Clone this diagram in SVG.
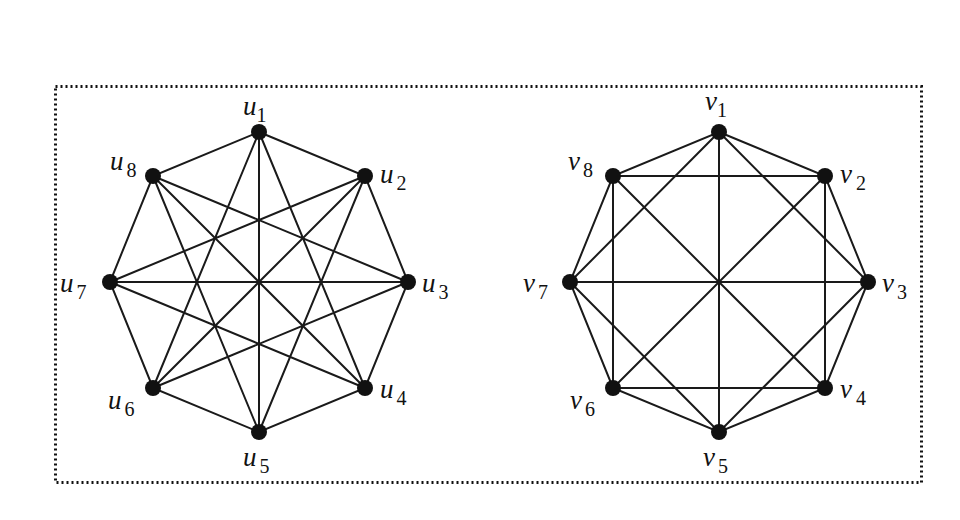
<svg xmlns="http://www.w3.org/2000/svg" width="960" height="520" viewBox="0 0 960 520">
<style>
.e{stroke:#1a1a1a;stroke-width:2;fill:none}
.n{fill:#111}
.l{font-family:"Liberation Serif",serif;font-style:italic;font-size:27px;fill:#111}
.s{font-style:normal;font-size:20px}
</style>
<rect width="960" height="520" fill="#fff"/>
<rect x="55.5" y="86.5" width="866" height="396" fill="none" stroke="#111" stroke-width="3" stroke-dasharray="2,3"/>
<g id="connectors" class="e">
<!-- left: octagon -->
<path d="M259,132L365,176L408,282L365,388L259,432L153,388L110,282L153,176Z"/>
<!-- left: distance 3 -->
<path d="M259,132L365,388M259,132L153,388M365,176L259,432M365,176L110,282M408,282L153,388M408,282L153,176M365,388L110,282M259,432L153,176"/>
<!-- left: distance 4 -->
<path d="M259,132L259,432M365,176L153,388M408,282L110,282M365,388L153,176"/>
<!-- right: octagon -->
<path d="M719,132L825,176L868,282L825,388L719,432L613,388L570,282L613,176Z"/>
<path d="M613,176L825,176L825,388L613,388Z"/>
<path d="M719,132L570,282M719,132L868,282M719,432L570,282M719,432L868,282"/>
<path d="M719,132L719,432M570,282L868,282M613,176L825,388M825,176L613,388"/>
</g>
<g id="u1"><circle class="n" cx="259" cy="132" r="8"/><text class="l" x="243" y="115">u<tspan class="s" dy="7">1</tspan></text></g>
<g id="u2"><circle class="n" cx="365" cy="176" r="8"/><text class="l" x="380" y="183">u<tspan class="s" dx="3" dy="7">2</tspan></text></g>
<g id="u3"><circle class="n" cx="408" cy="282" r="8"/><text class="l" x="422" y="292">u<tspan class="s" dx="3" dy="7">3</tspan></text></g>
<g id="u4"><circle class="n" cx="365" cy="388" r="8"/><text class="l" x="380" y="398">u<tspan class="s" dx="3" dy="7">4</tspan></text></g>
<g id="u5"><circle class="n" cx="259" cy="432" r="8"/><text class="l" x="243" y="466">u<tspan class="s" dx="3" dy="7">5</tspan></text></g>
<g id="u6"><circle class="n" cx="153" cy="388" r="8"/><text class="l" x="108" y="409">u<tspan class="s" dx="3" dy="7">6</tspan></text></g>
<g id="u7"><circle class="n" cx="110" cy="282" r="8"/><text class="l" x="60" y="292">u<tspan class="s" dx="3" dy="7">7</tspan></text></g>
<g id="u8"><circle class="n" cx="153" cy="176" r="8"/><text class="l" x="110" y="170">u<tspan class="s" dx="3" dy="7">8</tspan></text></g>
<g id="v1"><circle class="n" cx="719" cy="132" r="8"/><text class="l" x="705" y="110">v<tspan class="s" dy="7">1</tspan></text></g>
<g id="v2"><circle class="n" cx="825" cy="176" r="8"/><text class="l" x="840" y="183">v<tspan class="s" dx="4" dy="7">2</tspan></text></g>
<g id="v3"><circle class="n" cx="868" cy="282" r="8"/><text class="l" x="882" y="292">v<tspan class="s" dx="3" dy="7">3</tspan></text></g>
<g id="v4"><circle class="n" cx="825" cy="388" r="8"/><text class="l" x="840" y="398">v<tspan class="s" dx="4" dy="7">4</tspan></text></g>
<g id="v5"><circle class="n" cx="719" cy="432" r="8"/><text class="l" x="703" y="466">v<tspan class="s" dx="3" dy="7">5</tspan></text></g>
<g id="v6"><circle class="n" cx="613" cy="388" r="8"/><text class="l" x="570" y="409">v<tspan class="s" dx="3" dy="7">6</tspan></text></g>
<g id="v7"><circle class="n" cx="570" cy="282" r="8"/><text class="l" x="523" y="292">v<tspan class="s" dx="3" dy="7">7</tspan></text></g>
<g id="v8"><circle class="n" cx="613" cy="176" r="8"/><text class="l" x="568" y="170">v<tspan class="s" dx="3" dy="7">8</tspan></text></g>
</svg>
